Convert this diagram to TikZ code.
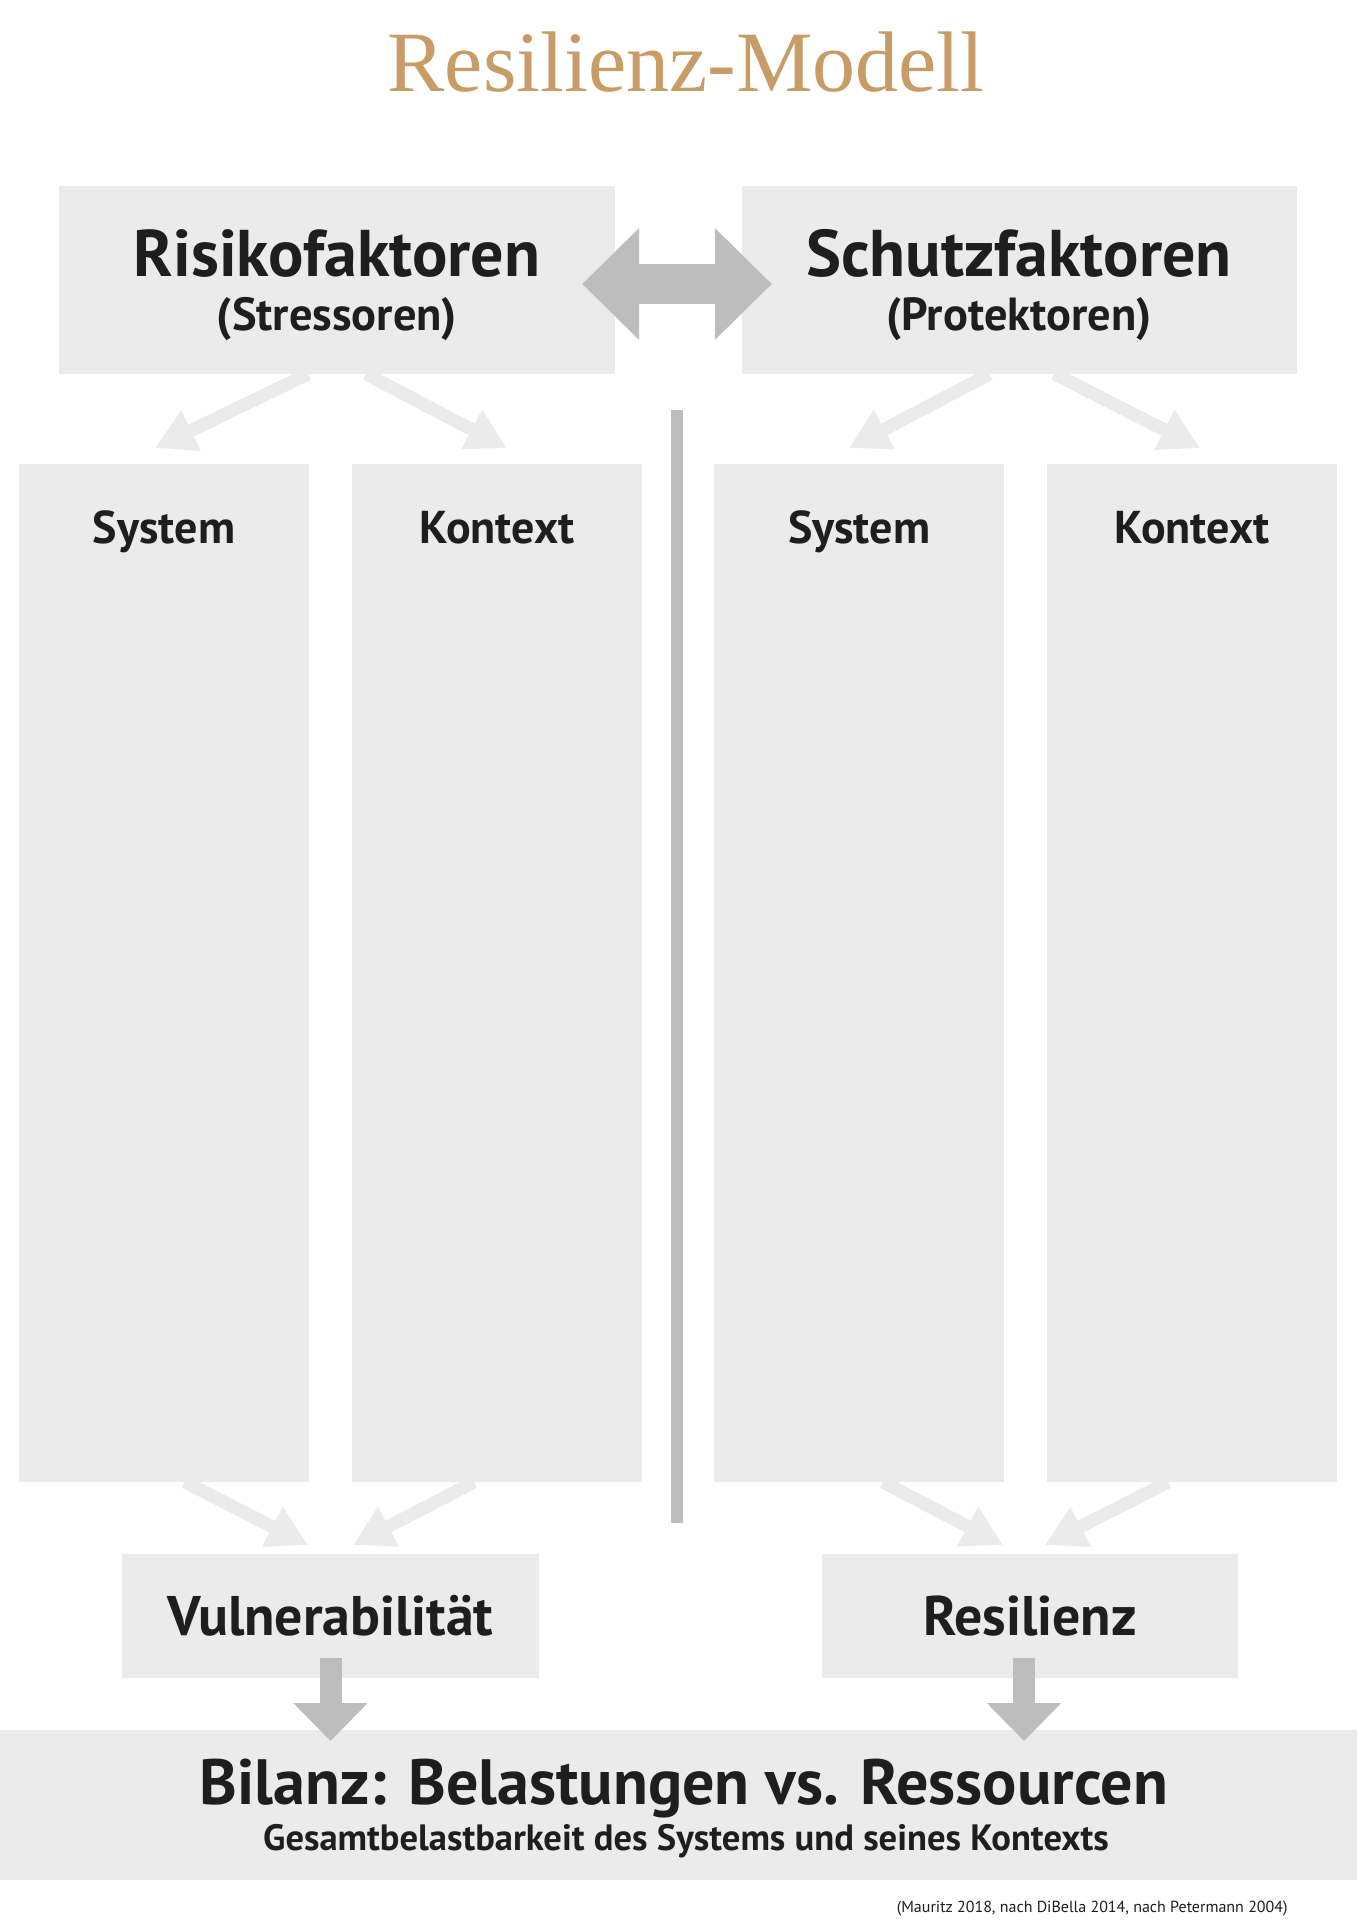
\documentclass[tikz,border=0pt]{standalone}
\usepackage{fontspec}
\setmainfont{PT Sans}
\newfontfamily\titlefont{Liberation Serif}
\usetikzlibrary{arrows.meta}
\definecolor{boxgray}{HTML}{EBEBEB}
\definecolor{arrowgray}{HTML}{BDBDBD}
\definecolor{titlegold}{HTML}{C79C66}
\definecolor{textdark}{HTML}{1E1E1E}
\begin{document}
\begin{tikzpicture}[
    x = 0.5pt,
    y = -0.5pt,
    field/.style = {rectangle, fill=boxgray, inner sep=0pt, outer sep=0pt},
    column/.style = {field, minimum width=145pt, minimum height=509pt},
    label/.style = {anchor=base, text=textdark, font=\bfseries\fontsize{23}{26}\selectfont, inner sep=0pt},
    thin arrow/.style = {-{Triangle[length=20pt, width=21pt]}, boxgray, line width=6.5pt},
    fat arrow/.style = {-{Triangle[length=19pt, width=36pt]}, arrowgray, line width=11pt},
    ]
\useasboundingbox (0,0) rectangle (1357,1920);

\node[anchor=base, text=titlegold, font=\titlefont\fontsize{43}{48}\selectfont, inner sep=0pt] (title) at (686,92) {Resilienz-Modell};

\node[field, minimum width=278pt, minimum height=94pt] (risk) at (337,280){};
\node[field, minimum width=277.5pt, minimum height=94pt] (prot) at (1019.5,280){};
\node[label, font=\bfseries\fontsize{33}{38}\selectfont] (risk_head) at (337,277) {Risikofaktoren};
\node[label, font=\bfseries\fontsize{23.2}{26}\selectfont] (risk_sub) at (337,330) {(Stressoren)};
\node[label, font=\bfseries\fontsize{33}{38}\selectfont] (prot_head) at (1019,277) {Schutzfaktoren};
\node[label, font=\bfseries\fontsize{23.2}{26}\selectfont] (prot_sub) at (1019,330) {(Protektoren)};
\draw [{Triangle[length=28.5pt, width=54pt]}-{Triangle[length=28.5pt, width=54pt]}, arrowgray, line width=20pt]
    ([shift={(-33,4)}]risk.east) -- ([shift={(30,4)}]prot.west);

\node[column] (sys_risk) at (164,973){};
\node[column] (ctx_risk) at (497,973){};
\node[column] (sys_prot) at (859,973){};
\node[column] (ctx_prot) at (1192,973){};
\node[label] (sys_risk_label) at (164,543) {System};
\node[label] (ctx_risk_label) at (497,543) {Kontext};
\node[label] (sys_prot_label) at (859,543) {System};
\node[label] (ctx_prot_label) at (1192,543) {Kontext};

\draw [thin arrow] ([xshift=-14.5pt]risk.south) -- ([shift={(-9,-16)}]sys_risk.north);
\draw [thin arrow] ([xshift=14.5pt]risk.south) -- ([shift={(10,-16)}]ctx_risk.north);
\draw [thin arrow] ([xshift=-15pt]prot.south) -- ([shift={(-10,-16)}]sys_prot.north);
\draw [thin arrow] ([xshift=17.5pt]prot.south) -- ([shift={(8,-16)}]ctx_prot.north);

\draw [arrowgray, line width=6pt] (677,410) -- (677,1523);

\node[field, minimum width=208.5pt, minimum height=62pt] (vul) at (330.5,1616){};
\node[field, minimum width=208pt, minimum height=62pt] (res) at (1030,1616){};
\node[label, font=\bfseries\fontsize{27.9}{32}\selectfont] (vul_label) at (330.5,1635) {Vulnerabilität};
\node[label, font=\bfseries\fontsize{27.9}{32}\selectfont] (res_label) at (1030,1635) {Resilienz};

\draw [thin arrow] ([xshift=10.5pt]sys_risk.south) -- ([shift={(-22.5,-9)}]vul.north);
\draw [thin arrow] ([xshift=-11.5pt]ctx_risk.south) -- ([shift={(22.5,-9)}]vul.north);
\draw [thin arrow] ([xshift=12pt]sys_prot.south) -- ([shift={(-27,-9)}]res.north);
\draw [thin arrow] ([xshift=-12pt]ctx_prot.south) -- ([shift={(15,-9)}]res.north);

\node[field, minimum width=678.5pt, minimum height=75pt] (balance) at (678.5,1805){};
\node[label, font=\bfseries\fontsize{32}{37}\selectfont] (balance_head) at (684,1804) {Bilanz: Belastungen vs. Ressourcen};
\node[label, font=\bfseries\fontsize{18.3}{21}\selectfont] (balance_sub) at (686,1850) {Gesamtbelastbarkeit des Systems und seines Kontexts};

\draw [fat arrow] ([shift={(0,-20)}]vul.south) -- ([shift={(0,11)}]balance.north -| vul.south);
\draw [fat arrow] ([shift={(-6,-20)}]res.south) -- ([shift={(-6,11)}]balance.north -| res.south);

\node[anchor=base east, text=textdark, font=\fontsize{8}{10}\selectfont, inner sep=0pt] (source) at (1288,1912) {(Mauritz 2018, nach DiBella 2014, nach Petermann 2004)};

\end{tikzpicture}
\end{document}
